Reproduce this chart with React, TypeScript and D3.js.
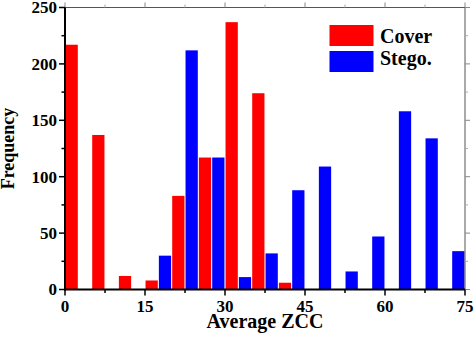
import React from "react";
import * as d3 from "d3";

const bins = [0, 5, 10, 15, 20, 25, 30, 35, 40, 45, 50, 55, 60, 65, 70];
const cover = [217, 137, 12, 8, 83, 117, 237, 174, 6, 0, 0, 0, 0, 0, 0];
const stego = [0, 0, 0, 30, 212, 117, 11, 32, 88, 109, 16, 47, 158, 134, 34];
const xTicks = [0, 15, 30, 45, 60, 75];
const yTicks = [0, 50, 100, 150, 200, 250];
const xMinor = [7.5, 22.5, 37.5, 52.5, 67.5];
const yMinor = [25, 75, 125, 175, 225];
const seriesNames = ["Cover", "Stego."];
const seriesColors = ["#ff0000", "#0000ff"];

const W = 474;
const H = 353;
const L = 65, R = 465, T = 7.5, B = 289.5;
const FONT = "'Liberation Serif', 'Times New Roman', serif";

export default function App() {
  const x = d3.scaleLinear().domain([0, 75]).range([L, R]);
  const y = d3.scaleLinear().domain([0, 250]).range([B, T]);
  const bw = x(2.3) - x(0);
  const series = [cover, stego];
  const offsets = [0.1, 2.6];

  return (
    <svg width={W} height={H} style={{ position: "absolute", left: 0, top: 0, background: "#fff" }}>
      <rect x={0} y={0} width={W} height={H} fill="#fff" />
      {series.map((vals, si) =>
        vals.map((v, i) =>
          v > 0 ? (
            <rect
              key={`${si}-${i}`}
              x={x(bins[i] + offsets[si])}
              y={y(v)}
              width={bw}
              height={y(0) - y(v)}
              fill={seriesColors[si]}
            />
          ) : null
        )
      )}
      {/* frame top and right */}
      <line x1={L} x2={R} y1={T} y2={T} stroke="#555" strokeWidth={1} />
      <line x1={R} x2={R} y1={T} y2={B} stroke="#555" strokeWidth={1} />
      {xTicks.map((t) => (
        <line key={`tt${t}`} x1={x(t)} x2={x(t)} y1={T} y2={T - 5} stroke="#888" strokeWidth={1} />
      ))}
      {xMinor.map((t) => (
        <line key={`tm${t}`} x1={x(t)} x2={x(t)} y1={T} y2={T - 3} stroke="#aaa" strokeWidth={1} />
      ))}
      {yTicks.map((t) => (
        <line key={`rt${t}`} x1={R} x2={R + 5} y1={y(t)} y2={y(t)} stroke="#888" strokeWidth={1} />
      ))}
      {yMinor.map((t) => (
        <line key={`rm${t}`} x1={R} x2={R + 3} y1={y(t)} y2={y(t)} stroke="#aaa" strokeWidth={1} />
      ))}
      {/* axes */}
      <line x1={L} x2={L} y1={T} y2={B + 1} stroke="#000" strokeWidth={2} />
      <line x1={L - 1} x2={R} y1={B} y2={B} stroke="#000" strokeWidth={2} />
      {xTicks.map((t) => (
        <g key={`x${t}`}>
          <line x1={x(t)} x2={x(t)} y1={B} y2={B + 6} stroke="#000" strokeWidth={1.5} />
          <text x={x(t)} y={311.5} textAnchor="middle" fontFamily={FONT} fontWeight="bold" fontSize={17}>
            {t}
          </text>
        </g>
      ))}
      {xMinor.map((t) => (
        <line key={`xm${t}`} x1={x(t)} x2={x(t)} y1={B} y2={B + 3.5} stroke="#000" strokeWidth={1.5} />
      ))}
      {yTicks.map((t) => (
        <g key={`y${t}`}>
          <line x1={L - 6} x2={L} y1={y(t)} y2={y(t)} stroke="#000" strokeWidth={1.5} />
          <text x={57} y={y(t)} dy="0.35em" textAnchor="end" fontFamily={FONT} fontWeight="bold" fontSize={17}>
            {t}
          </text>
        </g>
      ))}
      {yMinor.map((t) => (
        <line key={`ym${t}`} x1={L - 3.5} x2={L} y1={y(t)} y2={y(t)} stroke="#000" strokeWidth={1.5} />
      ))}
      <text x={(L + R) / 2} y={327.5} textAnchor="middle" fontFamily={FONT} fontWeight="bold" fontSize={20}>
        Average ZCC
      </text>
      <text
        transform={`translate(14, ${(T + B) / 2}) rotate(-90)`}
        textAnchor="middle"
        fontFamily={FONT}
        fontWeight="bold"
        fontSize={18}
      >
        Frequency
      </text>
      {seriesNames.map((n, i) => (
        <g key={n}>
          <rect x={329.5} y={25 + i * 26} width={44} height={21} fill={seriesColors[i]} />
          <text x={380} y={42.5 + i * 22} fontFamily={FONT} fontWeight="bold" fontSize={20}>
            {n}
          </text>
        </g>
      ))}
    </svg>
  );
}
